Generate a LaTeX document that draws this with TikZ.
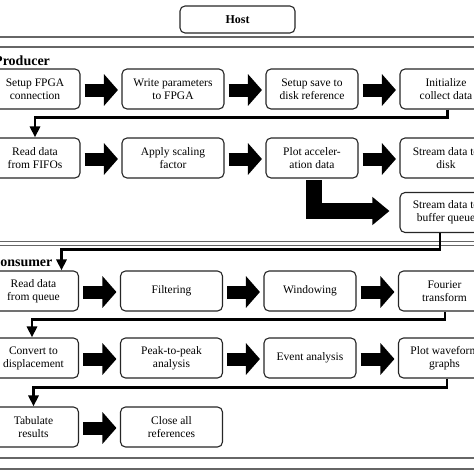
\documentclass[tikz,border=0pt]{standalone}
\usepackage{fontspec}
\setmainfont{Liberation Serif}
\usetikzlibrary{arrows.meta,calc}
\begin{document}
\begin{tikzpicture}[x=1pt,y=-1pt,
  box/.style={draw=black!85, line width=1.1pt, rounded corners=5pt, fill=white,
    minimum height=40pt, align=center, inner sep=2pt,
    font=\fontsize{11.5}{13}\selectfont},
  cA/.style={box, minimum width=90pt},
  cB/.style={box, minimum width=102pt},
  cC/.style={box, minimum width=92pt},
  cD/.style={box, minimum width=92pt},
  lane/.style={draw=black!60, line width=1.8pt},
  lanelabel/.style={font=\fontsize{14}{16}\selectfont\bfseries, anchor=base west, inner sep=0pt},
  blk/.style={line width=13pt, -{Triangle[length=14pt,width=31pt]}},
  conn/.style={line width=2.8pt, line join=miter, -{Triangle[length=11pt,width=10pt]}}
]
\useasboundingbox (0,0) rectangle (474,474);
\clip (0,0) rectangle (474,474);

% lanes
\draw[lane] (0,37) -- (474,37);
\draw[lane] (0,47) -- (474,47);
\draw[lane] (0,241.5) -- (474,241.5);
\draw[lane] (0,245.5) -- (474,245.5);
\draw[lane] (0,458) -- (474,458);
\draw[lane] (0,469) -- (474,469);

% host
\node[box, minimum width=115pt, minimum height=27pt, font=\fontsize{12}{14}\selectfont\bfseries] (host) at (237.5,19.5) {Host};

\node[lanelabel] (prod) at (-6,65) {Producer};
\node[lanelabel] (cons) at (-10,266) {Consumer};

% producer row 1
\node[cA] (fpga) at (35,89) {Setup FPGA\\connection};
\node[cB] (wpar) at (173,89) {Write parameters\\to FPGA};
\node[cC] (ssave) at (312,89) {Setup save to\\disk reference};
\node[cD] (init) at (446,89) {Initialize\\collect data};
% producer row 2
\node[cA] (rfifo) at (35,158) {Read data\\from FIFOs};
\node[cB] (scale) at (173,158) {Apply scaling\\factor};
\node[cC] (acc) at (312,158) {Plot acceler-\\ation data};
\node[cD] (sdisk) at (446,158) {Stream data to\\disk};
\node[cD] (buf) at (446,212.5) {Stream data to\\buffer queue};

% consumer row 3
\node[cA] (rq) at (33.5,291) {Read data\\from queue};
\node[cB] (filt) at (171.5,291) {Filtering};
\node[cC] (win) at (310,291) {Windowing};
\node[cD] (four) at (444.5,291) {Fourier\\transform};
% row 4
\node[cA] (conv) at (33.5,358) {Convert to\\displacement};
\node[cB] (p2p) at (171.5,358) {Peak-to-peak\\analysis};
\node[cC] (evt) at (310,358) {Event analysis};
\node[cD] (pwave) at (444.5,358) {Plot waveform\\graphs};
% row 5
\node[cA] (tab) at (33.5,427) {Tabulate\\results};
\node[cB] (close) at (171.5,427) {Close all\\references};

% block arrows
\foreach \a/\b in {fpga/wpar, wpar/ssave, ssave/init, rfifo/scale, scale/acc, acc/sdisk,
  rq/filt, filt/win, win/four, conv/p2p, p2p/evt, evt/pwave, tab/close}{
  \draw[blk] ($(\a.east)+(4,1)$) -- ($(\b.west)+(-3.5,1)$);
}

% L-shaped block arrow
\draw[line width=16pt, line join=miter, -{Triangle[length=17pt,width=27pt]}]
  ($(acc.south)+(2,1.5)$) |- ($(buf.west)+(-10,-1.5)$);

% connectors
\draw[conn] ($(init.south)+(1.5,0)$) -- ($(init.south)+(1.5,8)$) -| (rfifo.north);
\draw[conn] ($(buf.south)+(-6,0)$) -- ($(buf.south)+(-6,16.5)$) -| ($(rq.north)+(28,0)$);
\draw[conn] ($(four.south)+(0.5,0)$) -- ($(four.south)+(0.5,8)$) -| ($(conv.north)+(-1.5,0)$);
\draw[conn] ($(pwave.south)+(2.5,0)$) -- ($(pwave.south)+(2.5,9)$) -| (tab.north);
\end{tikzpicture}
\end{document}
